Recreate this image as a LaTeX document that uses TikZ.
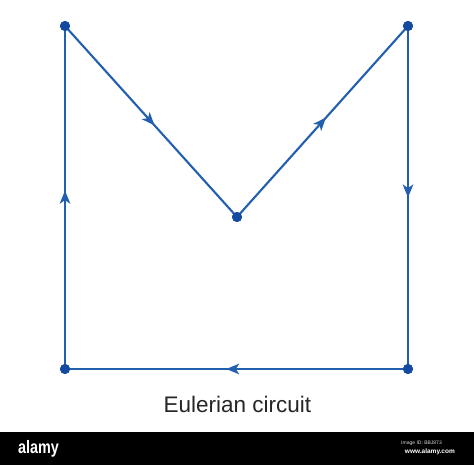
\documentclass[tikz,border=0pt]{standalone}
\usepackage{fontspec}
\setmainfont{Liberation Sans}
\usetikzlibrary{decorations.markings,arrows.meta}
\definecolor{edgeblue}{RGB}{35,95,175}
\definecolor{dotblue}{RGB}{20,75,160}
\tikzset{
  vertex/.style={circle,fill=dotblue,inner sep=0pt,minimum size=10pt},
  edge/.style={draw=edgeblue,line width=2.1pt,
    postaction={decorate,decoration={markings,
      mark=at position #1 with {\arrow[edgeblue]{Stealth[length=13pt,width=10.5pt,inset=3.5pt]}}}}},
  edge/.default=0.52
}
\begin{document}
\begin{tikzpicture}[x=1pt,y=-1pt]
\useasboundingbox (0,0) rectangle (474,465);
\fill[white] (0,0) rectangle (474,465);
\node[vertex] (tl) at (65,26) {};
\node[vertex] (tr) at (408,26) {};
\node[vertex] (m) at (237,217) {};
\node[vertex] (bl) at (65,369) {};
\node[vertex] (br) at (408,369) {};
\path[edge=0.52] (tl.center) -- (m.center);
\path[edge=0.52] (m.center) -- (tr.center);
\path[edge=0.5] (tr.center) -- (br.center);
\path[edge=0.53] (br.center) -- (bl.center);
\path[edge=0.52] (bl.center) -- (tl.center);
\node[vertex] at (tl) {};
\node[vertex] at (tr) {};
\node[vertex] at (m) {};
\node[vertex] at (bl) {};
\node[vertex] at (br) {};
\node[font=\fontsize{22.5}{26}\selectfont,text=black!85,inner sep=0pt] (cap) at (237.5,404) {Eulerian circuit};
\fill[black] (0,432) rectangle (474,465);
\node[font=\fontsize{18}{19}\selectfont\bfseries,text=white,inner sep=0pt,anchor=west,xscale=0.8] (logo) at (18,449) {alamy};
\node[font=\fontsize{5}{6}\selectfont,text=white!85!black,inner sep=0pt,anchor=east] (iid) at (442,443) {Image ID: BBJ873};
\node[font=\fontsize{6.5}{7}\selectfont\bfseries,text=white,inner sep=0pt,anchor=east] (www) at (455,452) {www.alamy.com};
\end{tikzpicture}
\end{document}
